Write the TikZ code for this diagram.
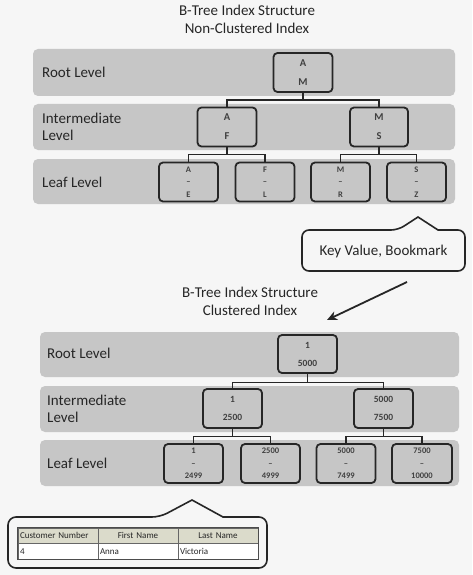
\documentclass[tikz,border=0pt]{standalone}
\usepackage{fontspec}
\setmainfont{Carlito}
\usepackage{tikz}
\usetikzlibrary{arrows.meta}

\definecolor{bandgray}{HTML}{C6C6C6}
\definecolor{pagegray}{HTML}{F6F6F6}
\definecolor{textgray}{HTML}{262626}
\definecolor{headbeige}{HTML}{DBDBCB}

\begin{document}
\begin{tikzpicture}[x=1pt,y=-1pt,
	band/.style={fill=bandgray, rounded corners=5pt},
	levellabel/.style={anchor=west, inner sep=0pt, align=left, text=textgray, font=\fontsize{15}{17}\selectfont},
	title/.style={align=center, text=textgray, font=\fontsize{15}{18}\selectfont},
	keynode/.style={rectangle, rounded corners=4pt, draw=black!85, line width=1.8pt, fill=bandgray, minimum width=59pt, minimum height=39pt, align=center, text=black!75},
	upper/.style={keynode, font=\bfseries\fontsize{10.5}{19}\selectfont},
	leaf/.style={keynode, font=\bfseries\fontsize{8.5}{12.5}\selectfont},
	upperno/.style={keynode, font=\bfseries\fontsize{9.5}{18}\selectfont},
	leafno/.style={keynode, font=\bfseries\fontsize{8.5}{12.5}\selectfont},
	edge/.style={line width=1.5pt, black!85},
	callout/.style={draw=black!85, line width=1.6pt, fill=pagegray},
	cell/.style={draw=black!60, line width=0.8pt, minimum height=15.5pt, text width=76pt, inner sep=2pt, text=textgray, font=\fontsize{9}{10}\selectfont},
	]
	\useasboundingbox[fill=pagegray] (0,0) rectangle (472,575);

	%Non-clustered index
	\node[title] (t1) at (247,19) {B-Tree Index Structure\\Non-Clustered Index};
	\fill[band] (33,49) rectangle (455,96);
	\fill[band] (33,104) rectangle (455,150);
	\fill[band] (33,159) rectangle (455,204);
	\node[levellabel] (nroot) at (42,72) {Root Level};
	\node[levellabel] (nint) at (42,126.5) {Intermediate\\Level};
	\node[levellabel] (nleaf) at (42,182) {Leaf Level};

	%Nodes
	\node[upper] (r1) at (303,72.5) {A\\M};
	\node[upper] (a1) at (227,127) {A\\F};
	\node[upper, minimum width=58pt] (a2) at (379,127) {M\\S};
	\node[leaf] (l1) at (188.5,182) {A\\--\\E};
	\node[leaf] (l2) at (265,182) {F\\--\\L};
	\node[leaf] (l3) at (340.5,182) {M\\--\\R};
	\node[leaf] (l4) at (416.5,182) {S\\--\\Z};

	%Lines
	\draw[edge] (r1.south) -- ++(0,7) -| (a1.north);
	\draw[edge] (r1.south) -- ++(0,7) -| (a2.north);
	\draw[edge] (a1.south) -- ++(0,7) -| (l1.north);
	\draw[edge] (a1.south) -- ++(0,7) -| (l2.north);
	\draw[edge] (a2.south) -- ++(0,7) -| (l3.north);
	\draw[edge] (a2.south) -- ++(0,7) -| (l4.north);

	%Bookmark callout
	\draw[callout] (398,230) -- (418,217) -- (438,230) [rounded corners=7pt] -- (465,230) -- (465,271) -- (302,271) -- (302,230) -- cycle;
	\node[title] (kv) at (383.5,251) {Key Value, Bookmark};
	\coordinate (arrowtail) at (407,282);
	\coordinate (arrowtip) at (327,320);
	\draw[-{Stealth[length=10pt,width=9pt,inset=3pt]}, line width=1.8pt, black!85] (arrowtail) -- (arrowtip);

	%Clustered index
	\node[title] (t2) at (250,301.5) {B-Tree Index Structure\\Clustered Index};
	\fill[band] (40,332) rectangle (459,377);
	\fill[band] (40,386) rectangle (459,432);
	\fill[band] (40,440) rectangle (459,486);
	\node[levellabel] (croot) at (47,353) {Root Level};
	\node[levellabel] (cint) at (47,408.5) {Intermediate\\Level};
	\node[levellabel] (cleaf) at (47,463) {Leaf Level};

	%Nodes
	\node[upperno, minimum height=38pt] (r2) at (307.5,354) {1\\5000};
	\node[upperno] (b1) at (232.5,408.5) {1\\2500};
	\node[upperno] (b2) at (383.5,408.5) {5000\\7500};
	\node[leafno] (k1) at (193.5,463.5) {1\\--\\2499};
	\node[leafno] (k2) at (270.5,463.5) {2500\\--\\4999};
	\node[leafno] (k3) at (346,463.5) {5000\\--\\7499};
	\node[leafno, minimum width=60pt] (k4) at (422,463.5) {7500\\--\\10000};

	%Lines
	\draw[edge] (r2.south) -- ++(0,8.5) -| (b1.north);
	\draw[edge] (r2.south) -- ++(0,8.5) -| (b2.north);
	\draw[edge] (b1.south) -- ++(0,7.5) -| (k1.north);
	\draw[edge] (b1.south) -- ++(0,7.5) -| (k2.north);
	\draw[edge] (b2.south) -- ++(0,7.5) -| (k3.north);
	\draw[edge] (b2.south) -- ++(0,7.5) -| (k4.north);

	%Row callout
	\draw[callout] (160,517) -- (192,500) -- (223,517) [rounded corners=8pt] -- (267,517) -- (267,568) -- (8,568) -- (8,517) -- cycle;
	\node[cell, fill=headbeige, align=left] (h1) at (58,535.75) {Customer Number};
	\node[cell, fill=headbeige, align=center] (h2) at (138,535.75) {First Name};
	\node[cell, fill=headbeige, align=center] (h3) at (218,535.75) {Last Name};
	\node[cell, fill=white, align=left] (d1) at (58,551.25) {4};
	\node[cell, fill=white, align=left] (d2) at (138,551.25) {Anna};
	\node[cell, fill=white, align=left] (d3) at (218,551.25) {Victoria};
	\draw[black!70, line width=1.4pt] (h1.north west) rectangle (d3.south east);
\end{tikzpicture}
\end{document}
